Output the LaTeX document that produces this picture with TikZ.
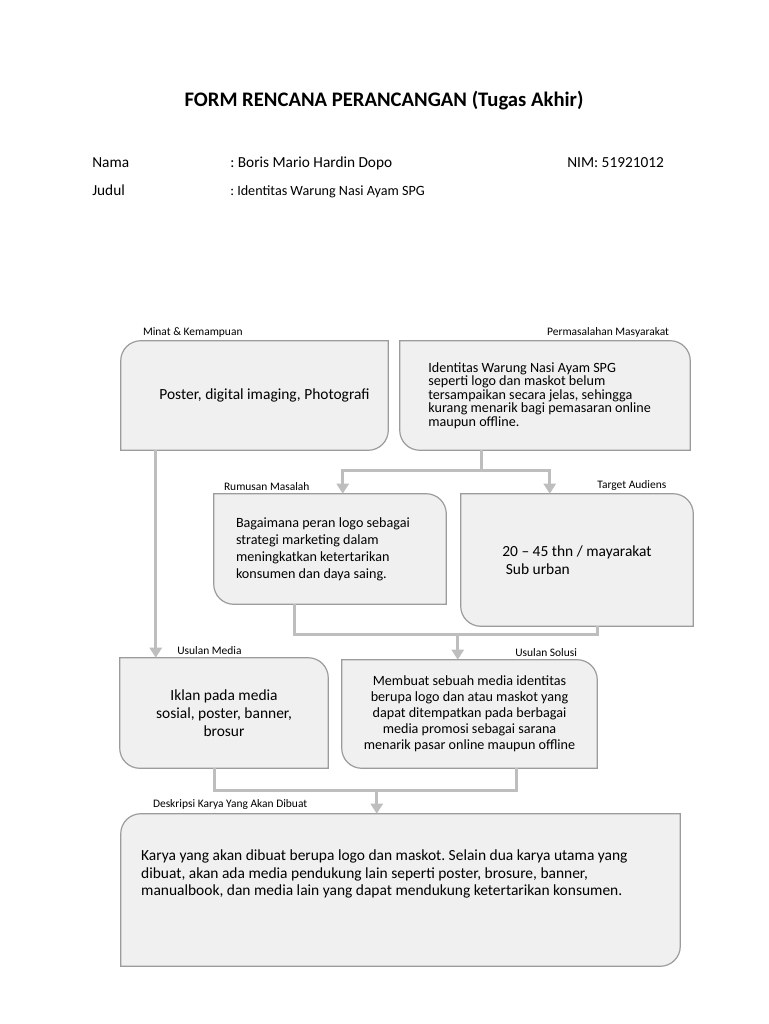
\documentclass[tikz,border=0pt]{standalone}
\usepackage{fontspec}
\setmainfont{Carlito}
\usepackage{tikz}
\usetikzlibrary{positioning}
\usetikzlibrary{arrows.meta}
\usetikzlibrary{backgrounds}

\definecolor{boxfill}{HTML}{F0F0F0}
\definecolor{boxedge}{HTML}{9C9C9C}
\definecolor{flowgray}{HTML}{BEBEBE}

\begin{document}
\frenchspacing
\begin{tikzpicture}[x=0.75pt, y=-0.75pt, node distance=2pt and 16pt,
  hdr/.style={font=\fontsize{11.5}{13}\selectfont, inner sep=0pt},
  caption/.style={font=\fontsize{8.6}{10}\selectfont, inner sep=0pt},
  card/.style={inner sep=0pt, font=\fontsize{10.6}{12.8}\selectfont},
  edge/.style={draw=boxedge, fill=boxfill, line width=0.9pt},
  flowline/.style={draw=flowgray, line width=2.3pt},
  flow/.style={flowline, -{Triangle[width=9pt,length=7.5pt]}}]

\useasboundingbox (0,0) rectangle (768,1024);

%%%%%%%%%%%%%% header
\node[font=\bfseries\fontsize{15.5}{18}\selectfont, anchor=base] (title) at (384,106) {FORM RENCANA PERANCANGAN (Tugas Akhir)};
\node[hdr, anchor=base west] (nama) at (92,167) {Nama};
\node[hdr, anchor=base west] (namaisi) at (230,167) {: Boris Mario Hardin Dopo};
\node[hdr, anchor=base west] (nim) at (567,167) {NIM: 51921012};
\node[hdr, anchor=base west] (judul) at (92,195) {Judul};
\node[hdr, anchor=base west, font=\fontsize{10.6}{13}\selectfont] (judulisi) at (230,195) {: Identitas Warung Nasi Ayam SPG};

%%%%%%%%%%%%%% boxes
\node[card, minimum width=200.25pt, minimum height=81.75pt, font=\fontsize{11.6}{14}\selectfont] (minat) at (254.5,395.5) {\hspace{15pt}Poster, digital imaging, Photografi};
\node[card, minimum width=217.5pt, minimum height=81.75pt, text width=175pt, align=flush left, font=\fontsize{10.6}{10.2}\selectfont] (masalah) at (545,395.5) {Identitas Warung Nasi Ayam SPG\\ seperti logo dan maskot belum\\ tersampaikan secara jelas, sehingga\\ kurang menarik bagi pemasaran online\\ maupun offline.};
\node[card, minimum width=174pt, minimum height=82.5pt, text width=141pt, align=flush left] (rumusan) at (330,549) {Bagaimana peran logo sebagai\\ strategi marketing dalam\\ meningkatkan ketertarikan\\ konsumen dan daya saing.};
\node[card, minimum width=174pt, minimum height=99pt, align=flush left, font=\fontsize{11.6}{13.5}\selectfont] (target) at (577,560) {20 – 45 thn / mayarakat\\ \ Sub urban};
\node[card, minimum width=156pt, minimum height=82.5pt, align=center, font=\fontsize{11.6}{13.5}\selectfont] (media) at (224,713) {Iklan pada media\\ sosial, poster, banner,\\ brosur};
\node[card, minimum width=191.25pt, minimum height=81pt, align=center, font=\fontsize{10.6}{12}\selectfont] (solusi) at (469.5,714) {Membuat sebuah media identitas\\ berupa logo dan atau maskot yang\\ dapat ditempatkan pada berbagai\\ media promosi sebagai sarana\\ menarik pasar online maupun offline};
\node[card, minimum width=419.25pt, minimum height=114pt, text width=389pt, align=flush left, font=\fontsize{11.6}{13}\selectfont] (karya) at (400.5,890) {Karya yang akan dibuat berupa logo dan maskot. Selain dua karya utama yang\\ dibuat, akan ada media pendukung lain seperti poster, brosure, banner,\\ manualbook, dan media lain yang dapat mendukung ketertarikan konsumen.\\ \mbox{}\\ \mbox{}};

%%%%%%%%%%%%%% captions
\node[caption, above right=2pt and 16.5pt of minat.north west] (lminat) {Minat \& Kemampuan};
\node[caption, above left=2pt and 15.75pt of masalah.north east] (lmasalah) {Permasalahan Masyarakat};
\node[caption, above right=2pt and 7.5pt of rumusan.north west] (lrumusan) {Rumusan Masalah};
\node[caption, above left=2pt and 20pt of target.north east] (ltarget) {Target Audiens};
\node[caption, above right=2pt and 43pt of media.north west] (lmedia) {Usulan Media};
\node[caption, above left=2pt and 15pt of solusi.north east] (lsolusi) {Usulan Solusi};
\node[caption, above right=3pt and 24pt of karya.north west] (lkarya) {Deskripsi Karya Yang Akan Dibuat};

%%%%%%%%%%%%%% outlines
\begin{scope}[on background layer]
\foreach \n in {minat,karya}
  \draw[edge] (\n.south west) -- ([yshift=-15pt]\n.north west) arc[start angle=180,end angle=90,radius=15pt] -- (\n.north east) -- ([yshift=15pt]\n.south east) arc[start angle=0,end angle=-90,radius=15pt] -- cycle;
\foreach \n in {masalah,rumusan,target,media,solusi}
  \draw[edge] (\n.north west) -- ([xshift=-15pt]\n.north east) arc[start angle=90,end angle=0,radius=15pt] -- (\n.south east) -- ([xshift=15pt]\n.south west) arc[start angle=270,end angle=180,radius=15pt] -- cycle;
\end{scope}

%%%%%%%%%%%%%% connectors
\coordinate (s1) at ([xshift=26.25pt]minat.south west);
\draw[flow] (s1) -- (s1 |- media.north);

\coordinate (s2) at ([xshift=61.5pt]masalah.south west);
\coordinate (j2) at ([yshift=-15pt]s2);
\coordinate (t3) at ([xshift=96.75pt]rumusan.north west);
\coordinate (t4) at ([xshift=66.75pt]target.north west);
\draw[flowline] (s2) -- (j2);
\draw[flow] (j2) -| (t3);
\draw[flow] (j2) -| (t4);

\coordinate (s3) at ([xshift=60.75pt]rumusan.south west);
\coordinate (s4) at ([xshift=102.75pt]target.south west);
\coordinate (j3) at ([yshift=-22.5pt]s3);
\coordinate (t6) at ([xshift=87pt]solusi.north west);
\draw[flowline] (s3) -- (j3) -- (j3 -| s4) -- (s4);
\draw[flow] (j3 -| t6) -- (t6);

\coordinate (s5) at ([xshift=71.25pt]media.south west);
\coordinate (s6) at ([xshift=131.25pt]solusi.south west);
\coordinate (j5) at ([yshift=-16.5pt]s5);
\coordinate (t7) at ([xshift=192pt]karya.north west);
\draw[flowline] (s5) -- (j5) -- (j5 -| s6) -- (s6);
\draw[flow] (j5 -| t7) -- (t7);

\end{tikzpicture}
\end{document}
